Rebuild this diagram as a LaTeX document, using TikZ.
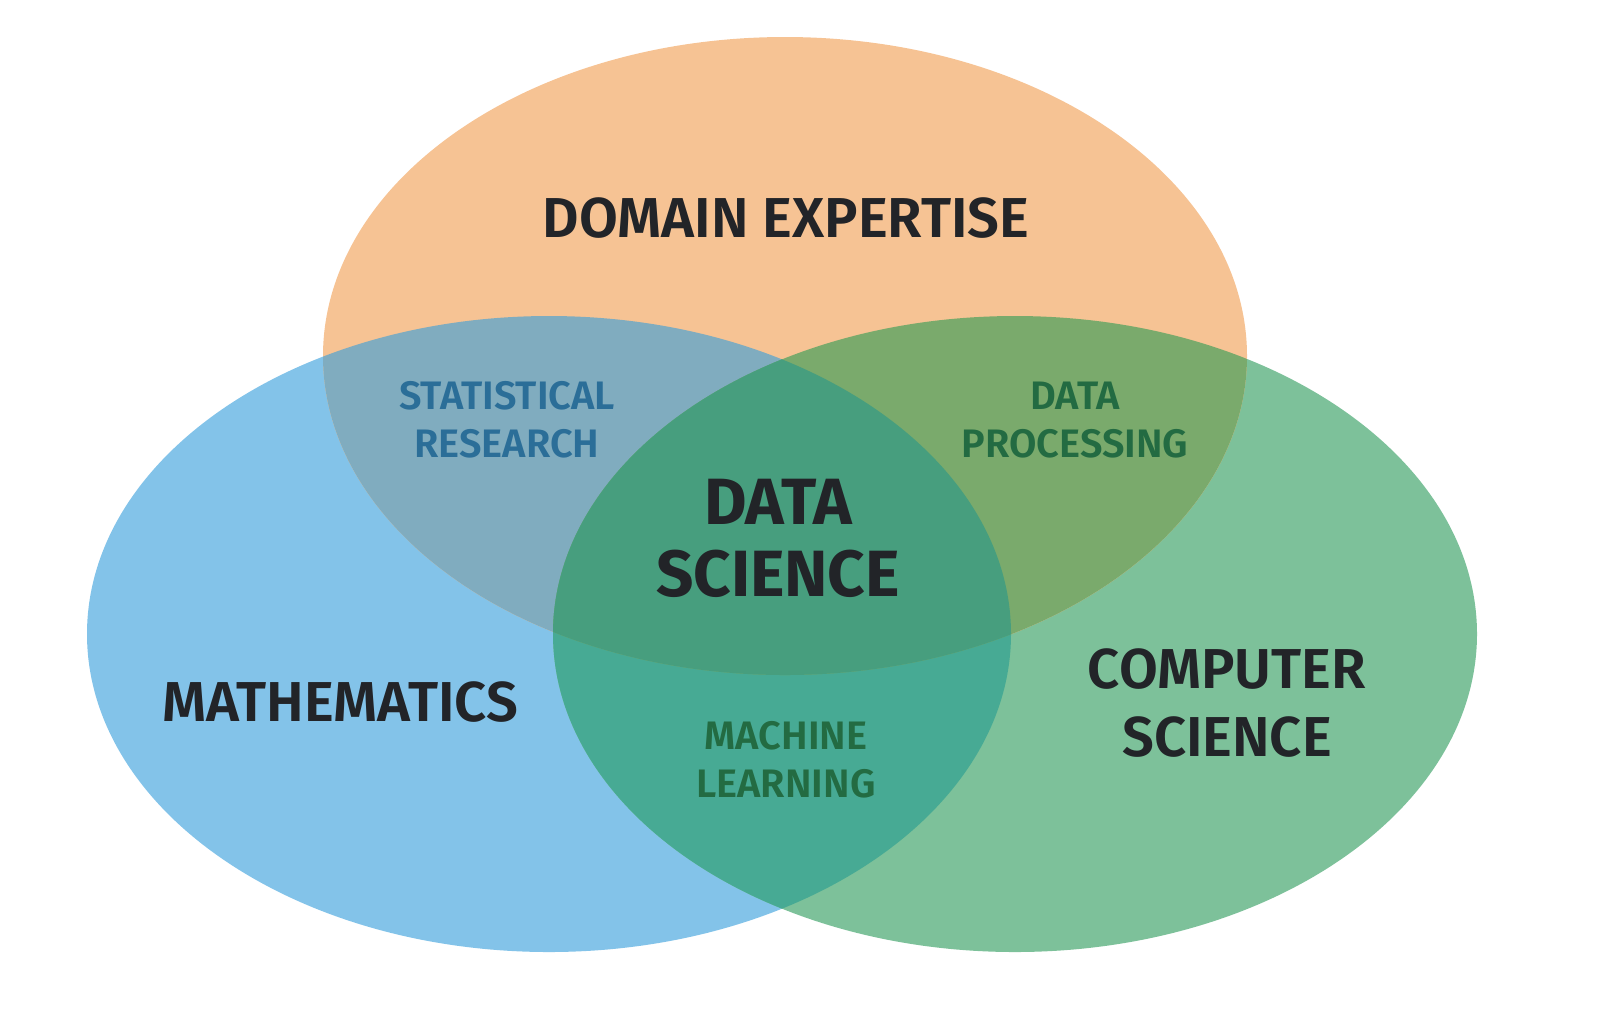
\documentclass[tikz,border=0pt]{standalone}
\usepackage{fontspec}
\setmainfont{Fira Sans}[UprightFont={* SemiBold}, BoldFont={* Bold}]
\definecolor{mathblue}{HTML}{83C3E9}
\definecolor{csgreen}{HTML}{7DC19A}
\definecolor{domorange}{HTML}{F6C394}
\definecolor{statmix}{HTML}{80ACBF}
\definecolor{procmix}{HTML}{7AAA6C}
\definecolor{mlmix}{HTML}{47AA94}
\definecolor{dsmix}{HTML}{479E7E}
\definecolor{labeldark}{HTML}{222428}
\definecolor{statblue}{HTML}{2B6E98}
\definecolor{procgreen}{HTML}{236B42}
\def\domE{(785,356) ellipse [x radius=462, y radius=319]}
\def\mathE{(549,634) ellipse [x radius=462, y radius=318]}
\def\csE{(1015,634) ellipse [x radius=462, y radius=318]}
\tikzset{
  bigtext/.style={text=labeldark, font=\fontsize{16}{19.6}\selectfont, align=center},
  smalltext/.style={font=\fontsize{11.3}{13.7}\selectfont, align=center}
}
\begin{document}
\begin{tikzpicture}[x=0.01cm, y=-0.01cm]
	    \useasboundingbox (0,0) rectangle (1600,1023);
	    \fill[mathblue] \mathE;
	    \fill[csgreen] \csE;
	    \fill[domorange] \domE;
	    \begin{scope}
	        \clip \mathE;
	        \fill[statmix] \domE;
	        \fill[mlmix] \csE;
	    \end{scope}
	    \begin{scope}
	        \clip \csE;
	        \fill[procmix] \domE;
	    \end{scope}
	    \begin{scope}
	        \clip \mathE;
	        \clip \csE;
	        \fill[dsmix] \domE;
	    \end{scope}
	    \node[bigtext] (domain) at (786, 218) {DOMAIN EXPERTISE};
	    \node[bigtext] (math) at (340, 702) {MATHEMATICS};
	    \node[bigtext] (cs) at (1227, 703) {COMPUTER\\SCIENCE};
	    \node[bigtext, font=\bfseries\fontsize{18.6}{20.5}\selectfont] (ds) at (778, 538) {DATA\\SCIENCE};
	    \node[smalltext, text=statblue] (stat) at (507, 420) {STATISTICAL\\RESEARCH};
	    \node[smalltext, text=procgreen] (proc) at (1075, 420) {DATA\\PROCESSING};
	    \node[smalltext, text=procgreen] (ml) at (786, 760) {MACHINE\\LEARNING};
    \end{tikzpicture}
\end{document}
